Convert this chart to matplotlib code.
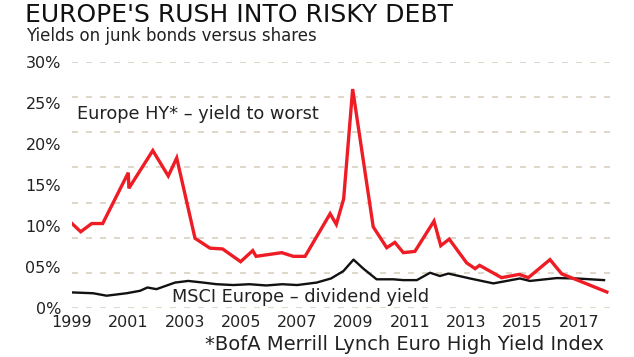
import matplotlib
matplotlib.use("Agg")
import matplotlib.pyplot as plt
import numpy as np

plt.rcParams['font.family'] = ['DejaVu Sans']

# Europe HY - yield to worst (%)
hy_year = [1999.0, 1999.31, 1999.70, 2000.09, 2001.0, 2001.02, 2001.87, 2002.42,
           2002.72, 2003.37, 2003.90, 2004.35, 2004.99, 2005.42, 2005.54, 2006.45,
           2006.86, 2007.28, 2008.17, 2008.39, 2008.65, 2008.97, 2009.70, 2010.18,
           2010.47, 2010.77, 2011.18, 2011.86, 2012.10, 2012.40, 2013.02, 2013.32,
           2013.48, 2014.26, 2014.89, 2015.21, 2015.98, 2016.40, 2016.81, 2018.0]
hy_yield = [10.3, 9.3, 10.3, 10.3, 16.5, 14.6, 19.2, 16.1,
            18.3, 8.5, 7.3, 7.2, 5.65, 7.0, 6.3, 6.75,
            6.3, 6.3, 11.5, 10.2, 13.3, 26.7, 9.9, 7.35,
            8.0, 6.75, 6.9, 10.6, 7.6, 8.4, 5.5, 4.8,
            5.2, 3.7, 4.1, 3.7, 5.9, 4.15, 3.6, 1.95]

# MSCI Europe - dividend yield (%)
dy_year = [1999.0, 1999.75, 2000.23, 2000.94, 2001.42, 2001.68, 2002.0, 2002.66,
           2003.13, 2003.66, 2004.14, 2004.73, 2005.3, 2005.9, 2006.47, 2007.0,
           2007.69, 2008.2, 2008.64, 2009.0, 2009.35, 2009.82, 2010.41, 2010.77,
           2011.25, 2011.72, 2012.07, 2012.37, 2013.14, 2013.97, 2014.91, 2015.27,
           2016.22, 2016.93, 2017.9]
dy_yield = [1.9, 1.8, 1.5, 1.8, 2.1, 2.5, 2.3, 3.1,
            3.3, 3.1, 2.9, 2.8, 2.9, 2.75, 2.9, 2.8,
            3.1, 3.6, 4.5, 5.9, 4.8, 3.5, 3.5, 3.4,
            3.4, 4.3, 3.9, 4.2, 3.6, 3.0, 3.6, 3.3,
            3.65, 3.6, 3.4]

year_ticks = list(range(1999, 2018, 2))
pct_ticks = [0, 5, 10, 15, 20, 25, 30]
pct_labels = ['0%', '05%', '10%', '15%', '20%', '25%', '30%']

fig = plt.figure(figsize=(6.34, 3.57), dpi=100)
ax = fig.add_axes([72/634, 1-308/357, (615-72)/634, (308-62)/357])

# gridlines (the original has 8 evenly spaced dashed lines)
for g in np.linspace(0, 30, 8):
    ax.axhline(g, color='#d9d0bf', lw=1.2, dashes=(3.6, 4.8), zorder=0)

ax.plot(hy_year, hy_yield, color='#ee1c25', lw=2.4, solid_joinstyle='miter', zorder=3)
ax.plot(dy_year, dy_yield, color='#111111', lw=1.7, zorder=2)

ax.set_xlim(1999, 1999 + (615-72)/28.15)
ax.set_ylim(0, 30)
ax.set_xticks(year_ticks)
ax.set_xticklabels([str(y) for y in year_ticks])
ax.set_yticks(pct_ticks)
ax.set_yticklabels(pct_labels)
ax.tick_params(length=0, labelsize=11.5, colors='#222222')
ax.tick_params(axis='y', pad=8)
ax.tick_params(axis='x', pad=5)
for s in ax.spines.values():
    s.set_visible(False)

ax.text(1999.18, 23.6, 'Europe HY* – yield to worst', fontsize=12.8, color='#222222',
        va='center', ha='left')
ax.text(2002.55, 1.4, 'MSCI Europe – dividend yield', fontsize=12.8, color='#222222',
        va='center', ha='left')

fig.text(25/634, 1-15/357, "EUROPE'S RUSH INTO RISKY DEBT", fontsize=18,
         color='#111111', va='center', ha='left')
fig.text(26/634, 1-36/357, 'Yields on junk bonds versus shares', fontsize=12,
         color='#222222', va='center', ha='left')
fig.text(604/634, 1-344/357, '*BofA Merrill Lynch Euro High Yield Index', fontsize=14,
         color='#222222', va='center', ha='right')

fig.savefig('out.png', dpi=100, facecolor='white')
